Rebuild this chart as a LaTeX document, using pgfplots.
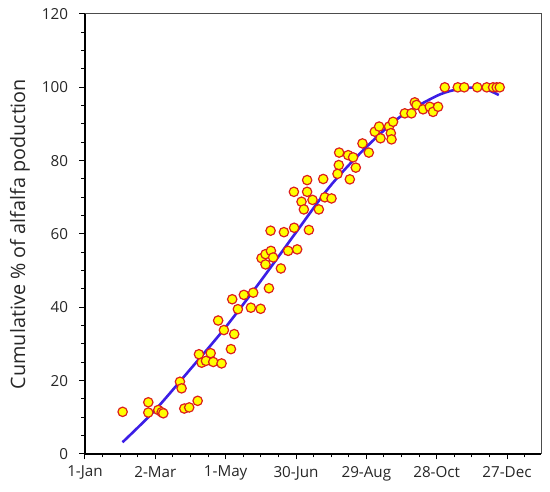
\documentclass[border=0pt]{standalone}
\usepackage{pgfplots}
\pgfplotsset{compat=1.18}
\usepackage{fontspec}
\setmainfont{Open Sans}
\definecolor{mkfill}{RGB}{255,255,0}
\definecolor{mkedge}{RGB}{220,30,30}
\definecolor{fitline}{RGB}{60,30,230}
\begin{document}
\begin{tikzpicture}
\begin{axis}[
  scale only axis,
  width=456pt, height=440pt,
  xmin=1, xmax=390, ymin=0, ymax=120,
  axis x line*=bottom, axis y line*=left,
  axis line style={black, line width=1.2pt, -},
  tick align=outside,
  major tick length=5.5pt, minor tick length=3.5pt,
  every tick/.style={black, line width=1pt},
  xtick={1,61,121,181,241,301,361},
  xticklabels={1-Jan,2-Mar,1-May,30-Jun,29-Aug,28-Oct,27-Dec},
  minor xtick={16,31,46,76,91,106,136,151,166,196,211,226,256,271,286,316,331,346,376},
  ytick={0,20,40,60,80,100,120},
  minor ytick={5,10,15,25,30,35,45,50,55,65,70,75,85,90,95,105,110,115},
  /pgf/number format/assume math mode=true,
  ticklabel style={font=\fontsize{15.2}{17}\selectfont, text=black!85},
  yticklabel style={xshift=-8pt},
  xticklabel style={yshift=-3pt},
  ylabel={Cumulative \% of alfalfa poduction},
  every axis y label/.style={at={([xshift=-65pt]axis description cs:0,0.5)}, anchor=center, rotate=90, font=\fontsize{19.8}{23}\selectfont, text=black!85},
  clip=false,
]
\draw[black!70, line width=1pt] (rel axis cs:0,1) -- (rel axis cs:1,1) -- (rel axis cs:1,0);
\addplot[only marks, mark=*, mark size=4.7pt, mark options={fill=mkfill, draw=mkedge, line width=1.2pt}] coordinates {
(33.1,11.5)(55.0,14.1)(55.0,11.3)(63.5,12.0)(66.4,11.4)(67.8,11.1)
(82.0,19.7)(83.4,17.9)(85.7,12.4)(89.9,12.7)(97.1,14.5)
(98.2,27.2)(100.5,24.9)(104.2,25.4)(108.2,27.5)(110.4,25.1)(117.5,24.7)
(114.6,36.4)(119.5,33.8)(128.3,32.7)(125.5,28.6)(131.4,39.5)(126.6,42.2)
(136.5,43.4)(144.5,44.0)(142.5,39.9)(150.8,39.6)(157.9,45.2)
(151.6,53.4)(155.0,54.5)(159.6,55.4)(161.5,53.6)(155.0,51.7)(168.1,50.6)
(174.3,55.4)(182.0,55.8)(159.3,60.9)(170.7,60.5)(179.4,61.7)(192.0,61.1)
(179.2,71.5)(190.5,74.7)(190.5,71.5)(185.7,68.8)(187.7,66.7)(195.1,69.3)
(200.5,66.7)(204.2,75.0)(205.6,70.0)(211.3,69.7)
(217.8,82.2)(217.5,78.8)(216.4,76.4)(226.9,74.9)(225.5,81.5)(229.7,80.9)(232.0,78.1)
(237.7,84.7)(243.1,82.2)(248.2,87.9)(251.9,89.3)(253.1,86.1)
(260.4,89.3)(261.9,87.5)(262.5,85.8)(263.8,90.6)
(273.8,92.9)(279.5,92.9)(282.3,95.9)(283.8,95.2)(289.4,94.0)(295.1,94.7)(297.9,93.3)(302.2,94.7)
(307.9,100.0)(319.0,100.0)(324.5,100.0)(335.6,100.0)(343.7,100.0)(349.1,100.0)(352.2,100.0)(354.8,100.0)
};
\addplot[fitline, line width=2.6pt, smooth] coordinates {
(33,3.2)(60,11.7)(90,22.8)(120,34.2)(150,46.8)(180,60.0)(210,73.0)
(240,83.4)(270,92.0)(300,97.5)(315,99.2)(330,99.9)(342,99.6)(354,97.9)
};
\end{axis}
\path (current axis.south west) ++(-85pt,-38pt) rectangle ++(550pt,492pt);
\end{tikzpicture}
\end{document}
